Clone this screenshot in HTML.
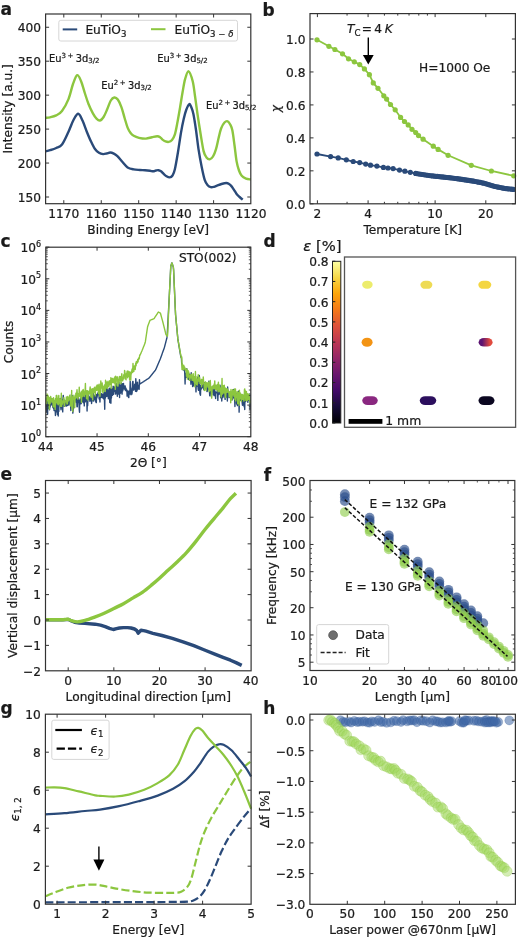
<!DOCTYPE html>
<html><head><meta charset="utf-8"><title>Figure</title>
<style>
html,body{margin:0;padding:0;background:#fff;}
body{width:520px;height:938px;overflow:hidden;}
svg{display:block;}
svg{font-family:"DejaVu Sans","Liberation Sans",sans-serif;font-size:12.2px;fill:#1a1a1a;}
svg text{stroke:#1a1a1a;stroke-width:0.22px;}
</style></head><body>
<svg width="520" height="938" viewBox="0 0 520 938">
<rect width="520" height="938" fill="#fff"/>
<text x="0.6" y="15.2" font-size="17" font-weight="bold">a</text>
<rect x="58.8" y="20.3" width="178.7" height="20.7" rx="2" fill="#fff" stroke="#d6d6d6" stroke-width="1"/>
<path d="M62.7,29.4H77.2" stroke="#2a4a79" stroke-width="2"/>
<path d="M151,29.2H165.5" stroke="#8cc63f" stroke-width="2"/>
<text x="85.4" y="34.3">EuTiO<tspan font-size="8.6" dy="2.2">3</tspan></text>
<text x="174.6" y="34.3">EuTiO<tspan font-size="8.6" dy="2.2">3 &#8722; <tspan font-style="italic">&#948;</tspan></tspan></text>
<path d="M45.6,151.3C46.33,151.12 48.23,150.75 50,150.2C51.77,149.65 54.2,148.95 56.2,148C58.2,147.05 59.95,147.22 62,144.5C64.05,141.78 66.58,135.78 68.5,131.7C70.42,127.62 71.88,122.98 73.5,120C75.12,117.02 76.7,113.72 78.2,113.8C79.7,113.88 81.07,117.52 82.5,120.5C83.93,123.48 85.38,128.2 86.8,131.7C88.22,135.2 89.63,138.62 91,141.5C92.37,144.38 93.67,147.12 95,149C96.33,150.88 97.65,151.95 99,152.8C100.35,153.65 101.82,153.98 103.1,154.1C104.38,154.22 105.52,153.77 106.7,153.5C107.88,153.23 109.02,152.48 110.2,152.5C111.38,152.52 112.6,152.98 113.8,153.6C115,154.22 115.95,154.8 117.4,156.2C118.85,157.6 120.8,160.13 122.5,162C124.2,163.87 125.73,166.17 127.6,167.4C129.47,168.63 131.67,168.97 133.7,169.4C135.73,169.83 137.92,169.85 139.8,170C141.68,170.15 143.3,170.17 145,170.3C146.7,170.43 148.63,170.63 150,170.8C151.37,170.97 152.2,171.35 153.2,171.3C154.2,171.25 155.13,170.68 156,170.5C156.87,170.32 157.57,170.07 158.4,170.2C159.23,170.33 160.15,170.72 161,171.3C161.85,171.88 162.58,172.88 163.5,173.7C164.42,174.52 165.47,175.58 166.5,176.2C167.53,176.82 168.7,177.52 169.7,177.4C170.7,177.28 171.65,176.8 172.5,175.5C173.35,174.2 173.88,173.52 174.8,169.6C175.72,165.68 176.97,158.17 178,152C179.03,145.83 180.05,138.1 181,132.6C181.95,127.1 182.83,122.77 183.7,119C184.57,115.23 185.28,112.47 186.2,110C187.12,107.53 188.37,104.7 189.2,104.2C190.03,103.7 190.5,105.35 191.2,107C191.9,108.65 192.6,110.27 193.4,114.1C194.2,117.93 195.15,124.17 196,130C196.85,135.83 197.57,143.02 198.5,149.1C199.43,155.18 200.57,161.37 201.6,166.5C202.63,171.63 203.68,176.78 204.7,179.9C205.72,183.02 206.68,184 207.7,185.2C208.72,186.4 209.75,186.83 210.8,187.1C211.85,187.37 212.97,187.03 214,186.8C215.03,186.57 215.75,186.17 217,185.7C218.25,185.23 219.95,184.45 221.5,184C223.05,183.55 225.05,183 226.3,183C227.55,183 228.15,183.48 229,184C229.85,184.52 230.57,185.13 231.4,186.1C232.23,187.07 233.13,188.5 234,189.8C234.87,191.1 235.67,192.7 236.6,193.9C237.53,195.1 238.58,196.05 239.6,197C240.62,197.95 242.18,199.17 242.7,199.6" fill="none" stroke="#2a4a79" stroke-width="2.4" stroke-linejoin="round"/>
<path d="M45.6,117.8C46.33,117.72 48.23,117.7 50,117.3C51.77,116.9 54.2,116.45 56.2,115.4C58.2,114.35 59.95,113.72 62,111C64.05,108.28 66.67,103.6 68.5,99.1C70.33,94.6 71.55,88 73,84C74.45,80 75.87,75.6 77.2,75.1C78.53,74.6 79.73,78.02 81,81C82.27,83.98 83.55,89.17 84.8,93C86.05,96.83 87.15,100.6 88.5,104C89.85,107.4 91.57,110.97 92.9,113.4C94.23,115.83 95.32,117.42 96.5,118.6C97.68,119.78 98.82,120.77 100,120.5C101.18,120.23 102.4,118.87 103.6,117C104.8,115.13 106,112.05 107.2,109.3C108.4,106.55 109.62,102.47 110.8,100.5C111.98,98.53 113.13,97.67 114.3,97.5C115.47,97.33 116.6,97.87 117.8,99.5C119,101.13 120.37,104.22 121.5,107.3C122.63,110.38 123.58,114.62 124.6,118C125.62,121.38 126.6,125.1 127.6,127.6C128.6,130.1 129.58,131.63 130.6,133C131.62,134.37 132.3,135 133.7,135.8C135.1,136.6 136.97,137.33 139,137.8C141.03,138.27 143.73,138.7 145.9,138.6C148.07,138.5 150.1,137.58 152,137.2C153.9,136.82 155.92,136.27 157.3,136.3C158.68,136.33 159.43,136.85 160.3,137.4C161.17,137.95 161.63,138.93 162.5,139.6C163.37,140.27 164.47,141.02 165.5,141.4C166.53,141.78 167.62,142.13 168.7,141.9C169.78,141.67 170.98,141.2 172,140C173.02,138.8 173.88,137.7 174.8,134.7C175.72,131.7 176.63,126.47 177.5,122C178.37,117.53 179.15,112.9 180,107.9C180.85,102.9 181.75,96.8 182.6,92C183.45,87.2 184.1,82.55 185.1,79.1C186.1,75.65 187.33,70.95 188.6,71.3C189.87,71.65 191.63,77.08 192.7,81.2C193.77,85.32 194.2,90.52 195,96C195.8,101.48 196.57,107.77 197.5,114.1C198.43,120.43 199.58,127.83 200.6,134C201.62,140.17 202.62,147.18 203.6,151.1C204.58,155.02 205.47,156.13 206.5,157.5C207.53,158.87 208.72,159.47 209.8,159.3C210.88,159.13 211.97,158.2 213,156.5C214.03,154.8 215.07,152.18 216,149.1C216.93,146.02 217.75,141.43 218.6,138C219.45,134.57 220.12,131.08 221.1,128.5C222.08,125.92 223.4,123.7 224.5,122.5C225.6,121.3 226.75,120.97 227.7,121.3C228.65,121.63 229.42,122.97 230.2,124.5C230.98,126.03 231.67,126.92 232.4,130.5C233.13,134.08 233.9,140.85 234.6,146C235.3,151.15 235.87,157.32 236.6,161.4C237.33,165.48 238.15,168.1 239,170.5C239.85,172.9 240.53,174.45 241.7,175.8C242.87,177.15 244.48,177.98 246,178.6C247.52,179.22 250,179.35 250.8,179.5" fill="none" stroke="#8cc63f" stroke-width="2.4" stroke-linejoin="round"/>
<text x="49" y="61.5" font-size="9.9">Eu<tspan font-size="7" dy="-3.9">3</tspan><tspan font-size="7" dx="1.6">+</tspan><tspan dy="3.9" dx="2.2">3d</tspan><tspan font-size="7" dy="1.6">3/2</tspan></text>
<text x="101.3" y="88.8" font-size="9.9">Eu<tspan font-size="7" dy="-3.9">2</tspan><tspan font-size="7" dx="1.6">+</tspan><tspan dy="3.9" dx="2.2">3d</tspan><tspan font-size="7" dy="1.6">3/2</tspan></text>
<text x="157.2" y="61.6" font-size="9.9">Eu<tspan font-size="7" dy="-3.9">3</tspan><tspan font-size="7" dx="1.6">+</tspan><tspan dy="3.9" dx="2.2">3d</tspan><tspan font-size="7" dy="1.6">5/2</tspan></text>
<text x="205.9" y="108.8" font-size="9.9">Eu<tspan font-size="7" dy="-3.9">2</tspan><tspan font-size="7" dx="1.6">+</tspan><tspan dy="3.9" dx="2.2">3d</tspan><tspan font-size="7" dy="1.6">5/2</tspan></text>
<rect x="45.6" y="14" width="205.2" height="189.7" fill="none" stroke="#333" stroke-width="1.2"/>
<path d="M63.8,203.7v-3.5M63.8,14v3.5M101.25,203.7v-3.5M101.25,14v3.5M138.7,203.7v-3.5M138.7,14v3.5M176.15,203.7v-3.5M176.15,14v3.5M213.6,203.7v-3.5M213.6,14v3.5" stroke="#333" stroke-width="1.0" fill="none"/>
<path d="M45.6,197h3.5M250.8,197h-3.5M45.6,163.05h3.5M250.8,163.05h-3.5M45.6,129.1h3.5M250.8,129.1h-3.5M45.6,95.15h3.5M250.8,95.15h-3.5M45.6,61.2h3.5M250.8,61.2h-3.5M45.6,27.25h3.5M250.8,27.25h-3.5" stroke="#333" stroke-width="1.0" fill="none"/>
<text x="63.8" y="217.8" text-anchor="middle">1170</text>
<text x="101.25" y="217.8" text-anchor="middle">1160</text>
<text x="138.7" y="217.8" text-anchor="middle">1150</text>
<text x="176.15" y="217.8" text-anchor="middle">1140</text>
<text x="213.6" y="217.8" text-anchor="middle">1130</text>
<text x="251.05" y="217.8" text-anchor="middle">1120</text>
<text x="41" y="201.85" text-anchor="end">150</text>
<text x="41" y="167.9" text-anchor="end">200</text>
<text x="41" y="133.95" text-anchor="end">250</text>
<text x="41" y="100" text-anchor="end">300</text>
<text x="41" y="66.05" text-anchor="end">350</text>
<text x="41" y="32.1" text-anchor="end">400</text>
<text x="148.2" y="233.9" text-anchor="middle">Binding Energy [eV]</text>
<text x="11.8" y="108.85" text-anchor="middle" transform="rotate(-90 11.8 108.85)">Intensity [a.u.]</text>
<text x="262.6" y="15.8" font-size="17" font-weight="bold">b</text>
<path d="M317,39.8 L328.9,46.3 L334.9,49.5 L342.5,53.8 L348.5,58.8 L354.3,61.8 L359.7,64.6 L364.4,68.9 L369.4,74.7 L373.3,82.9 L378,88.3 L383.8,95.8 L386.6,99.1 L390.5,104.5 L395.2,109.8 L400.6,117.4 L404.5,121.5 L408.2,124.9 L412,129.3 L415.7,132.5 L418.5,135.6 L423.1,139.2 L433.3,146.2 L438.1,149.4 L448.1,155.3 L471.3,165.3 L491.4,171 L513.7,175.8" fill="none" stroke="#8cc63f" stroke-width="1.8"/>
<g fill="#8cc63f"><circle cx="317" cy="39.8" r="2.6"/><circle cx="328.9" cy="46.3" r="2.6"/><circle cx="334.9" cy="49.5" r="2.6"/><circle cx="342.5" cy="53.8" r="2.6"/><circle cx="348.5" cy="58.8" r="2.6"/><circle cx="354.3" cy="61.8" r="2.6"/><circle cx="359.7" cy="64.6" r="2.6"/><circle cx="364.4" cy="68.9" r="2.6"/><circle cx="369.4" cy="74.7" r="2.6"/><circle cx="373.3" cy="82.9" r="2.6"/><circle cx="378" cy="88.3" r="2.6"/><circle cx="383.8" cy="95.8" r="2.6"/><circle cx="386.6" cy="99.1" r="2.6"/><circle cx="390.5" cy="104.5" r="2.6"/><circle cx="395.2" cy="109.8" r="2.6"/><circle cx="400.6" cy="117.4" r="2.6"/><circle cx="404.5" cy="121.5" r="2.6"/><circle cx="408.2" cy="124.9" r="2.6"/><circle cx="412" cy="129.3" r="2.6"/><circle cx="415.7" cy="132.5" r="2.6"/><circle cx="418.5" cy="135.6" r="2.6"/><circle cx="423.1" cy="139.2" r="2.6"/><circle cx="433.3" cy="146.2" r="2.6"/><circle cx="438.1" cy="149.4" r="2.6"/><circle cx="448.1" cy="155.3" r="2.6"/><circle cx="471.3" cy="165.3" r="2.6"/><circle cx="491.4" cy="171" r="2.6"/><circle cx="513.7" cy="175.8" r="2.6"/></g>
<path d="M317,154 L330.6,156.6 L338.2,157.9 L346.3,159.8 L353.2,161.5 L359.7,162.6 L365.7,164.1 L370.5,165.2 L376.9,166.1 L383.4,167.4 L388,168 L393.1,168.6 L399.5,170.1 L404.9,171.2 L410.3,172.3 L415.7,173.4 L416,173.5 L417.65,173.75 L419.3,174 L420.95,174.25 L422.6,174.5 L424.25,174.75 L425.9,175 L427.55,175.25 L429.2,175.5 L430.85,175.75 L432.5,175.94 L434.15,176.11 L435.8,176.28 L437.45,176.45 L439.1,176.62 L440.75,176.8 L442.4,176.97 L444.05,177.14 L445.7,177.31 L447.35,177.48 L449,177.66 L450.65,177.83 L452.3,178 L453.95,178.24 L455.6,178.48 L457.25,178.72 L458.9,178.97 L460.55,179.21 L462.2,179.45 L463.85,179.69 L465.5,179.93 L467.15,180.17 L468.8,180.41 L470.45,180.65 L472.1,180.9 L473.75,181.15 L475.4,181.48 L477.05,181.81 L478.7,182.14 L480.35,182.47 L482,182.8 L483.65,183.13 L485.3,183.59 L486.95,184.09 L488.6,184.59 L490.25,185.09 L491.9,185.58 L493.55,186.08 L495.2,186.52 L496.85,186.85 L498.5,187.17 L500.15,187.5 L501.8,187.83 L503.45,188.15 L505.1,188.48 L506.75,188.67 L508.4,188.85 L510.05,189.02 L511.7,189.2 L513.35,189.38" fill="none" stroke="#2a4a79" stroke-width="1.8"/>
<g fill="#2a4a79"><circle cx="317" cy="154" r="2.6"/><circle cx="330.6" cy="156.6" r="2.6"/><circle cx="338.2" cy="157.9" r="2.6"/><circle cx="346.3" cy="159.8" r="2.6"/><circle cx="353.2" cy="161.5" r="2.6"/><circle cx="359.7" cy="162.6" r="2.6"/><circle cx="365.7" cy="164.1" r="2.6"/><circle cx="370.5" cy="165.2" r="2.6"/><circle cx="376.9" cy="166.1" r="2.6"/><circle cx="383.4" cy="167.4" r="2.6"/><circle cx="388" cy="168" r="2.6"/><circle cx="393.1" cy="168.6" r="2.6"/><circle cx="399.5" cy="170.1" r="2.6"/><circle cx="404.9" cy="171.2" r="2.6"/><circle cx="410.3" cy="172.3" r="2.6"/><circle cx="415.7" cy="173.4" r="2.6"/><circle cx="416" cy="173.5" r="2.6"/><circle cx="417.65" cy="173.75" r="2.6"/><circle cx="419.3" cy="174" r="2.6"/><circle cx="420.95" cy="174.25" r="2.6"/><circle cx="422.6" cy="174.5" r="2.6"/><circle cx="424.25" cy="174.75" r="2.6"/><circle cx="425.9" cy="175" r="2.6"/><circle cx="427.55" cy="175.25" r="2.6"/><circle cx="429.2" cy="175.5" r="2.6"/><circle cx="430.85" cy="175.75" r="2.6"/><circle cx="432.5" cy="175.94" r="2.6"/><circle cx="434.15" cy="176.11" r="2.6"/><circle cx="435.8" cy="176.28" r="2.6"/><circle cx="437.45" cy="176.45" r="2.6"/><circle cx="439.1" cy="176.62" r="2.6"/><circle cx="440.75" cy="176.8" r="2.6"/><circle cx="442.4" cy="176.97" r="2.6"/><circle cx="444.05" cy="177.14" r="2.6"/><circle cx="445.7" cy="177.31" r="2.6"/><circle cx="447.35" cy="177.48" r="2.6"/><circle cx="449" cy="177.66" r="2.6"/><circle cx="450.65" cy="177.83" r="2.6"/><circle cx="452.3" cy="178" r="2.6"/><circle cx="453.95" cy="178.24" r="2.6"/><circle cx="455.6" cy="178.48" r="2.6"/><circle cx="457.25" cy="178.72" r="2.6"/><circle cx="458.9" cy="178.97" r="2.6"/><circle cx="460.55" cy="179.21" r="2.6"/><circle cx="462.2" cy="179.45" r="2.6"/><circle cx="463.85" cy="179.69" r="2.6"/><circle cx="465.5" cy="179.93" r="2.6"/><circle cx="467.15" cy="180.17" r="2.6"/><circle cx="468.8" cy="180.41" r="2.6"/><circle cx="470.45" cy="180.65" r="2.6"/><circle cx="472.1" cy="180.9" r="2.6"/><circle cx="473.75" cy="181.15" r="2.6"/><circle cx="475.4" cy="181.48" r="2.6"/><circle cx="477.05" cy="181.81" r="2.6"/><circle cx="478.7" cy="182.14" r="2.6"/><circle cx="480.35" cy="182.47" r="2.6"/><circle cx="482" cy="182.8" r="2.6"/><circle cx="483.65" cy="183.13" r="2.6"/><circle cx="485.3" cy="183.59" r="2.6"/><circle cx="486.95" cy="184.09" r="2.6"/><circle cx="488.6" cy="184.59" r="2.6"/><circle cx="490.25" cy="185.09" r="2.6"/><circle cx="491.9" cy="185.58" r="2.6"/><circle cx="493.55" cy="186.08" r="2.6"/><circle cx="495.2" cy="186.52" r="2.6"/><circle cx="496.85" cy="186.85" r="2.6"/><circle cx="498.5" cy="187.17" r="2.6"/><circle cx="500.15" cy="187.5" r="2.6"/><circle cx="501.8" cy="187.83" r="2.6"/><circle cx="503.45" cy="188.15" r="2.6"/><circle cx="505.1" cy="188.48" r="2.6"/><circle cx="506.75" cy="188.67" r="2.6"/><circle cx="508.4" cy="188.85" r="2.6"/><circle cx="510.05" cy="189.02" r="2.6"/><circle cx="511.7" cy="189.2" r="2.6"/><circle cx="513.35" cy="189.38" r="2.6"/></g>
<path d="M368.3,37.5V56" stroke="#000" stroke-width="1.4"/>
<path d="M362.9,55L373.7,55L368.3,64.6Z" fill="#000"/>
<text x="347" y="33.4"><tspan font-style="italic">T</tspan><tspan font-size="8.6" dy="2.4">C</tspan><tspan dy="-2.4" dx="1.2">=</tspan><tspan dx="2.4">4</tspan><tspan font-style="italic" dx="2.6">K</tspan></text>
<text x="419" y="72.2">H=1000 Oe</text>
<rect x="310" y="13.6" width="205.4" height="190.2" fill="none" stroke="#333" stroke-width="1.2"/>
<path d="M317.4,203.8v-3.5M317.4,13.6v3.5M368.09,203.8v-3.5M368.09,13.6v3.5M435.11,203.8v-3.5M435.11,13.6v3.5M485.8,203.8v-3.5M485.8,13.6v3.5" stroke="#333" stroke-width="1.0" fill="none"/>
<path d="M347.05,203.8v-2M347.05,13.6v2M384.41,203.8v-2M384.41,13.6v2M397.75,203.8v-2M397.75,13.6v2M409.02,203.8v-2M409.02,13.6v2M418.79,203.8v-2M418.79,13.6v2M427.4,203.8v-2M427.4,13.6v2" stroke="#333" stroke-width="1.0" fill="none"/>
<path d="M310,203.8h3.5M515.4,203.8h-3.5M310,170.84h3.5M515.4,170.84h-3.5M310,137.88h3.5M515.4,137.88h-3.5M310,104.92h3.5M515.4,104.92h-3.5M310,71.96h3.5M515.4,71.96h-3.5M310,39h3.5M515.4,39h-3.5" stroke="#333" stroke-width="1.0" fill="none"/>
<text x="317.4" y="217.9" text-anchor="middle">2</text>
<text x="368.09" y="217.9" text-anchor="middle">4</text>
<text x="435.11" y="217.9" text-anchor="middle">10</text>
<text x="485.8" y="217.9" text-anchor="middle">20</text>
<text x="305.4" y="208.65" text-anchor="end">0.0</text>
<text x="305.4" y="175.69" text-anchor="end">0.2</text>
<text x="305.4" y="142.73" text-anchor="end">0.4</text>
<text x="305.4" y="109.77" text-anchor="end">0.6</text>
<text x="305.4" y="76.81" text-anchor="end">0.8</text>
<text x="305.4" y="43.85" text-anchor="end">1.0</text>
<text x="412.7" y="233.9" text-anchor="middle">Temperature [K]</text>
<text x="279.9" y="108.7" text-anchor="middle" font-style="italic" transform="rotate(-90 279.9 108.7)">&#967;</text>
<text x="0.5" y="246.5" font-size="17" font-weight="bold">c</text>
<path d="M46.2,403.34 L46.48,407.27 L46.76,412.01 L47.04,402.15 L47.32,404.16 L47.6,414.22 L47.88,398.27 L48.16,403.8 L48.44,405.89 L48.72,400.05 L49,408.38 L49.28,405.37 L49.56,409.81 L49.84,404.46 L50.12,407.05 L50.4,399.45 L50.68,404.33 L50.96,399.68 L51.24,404.7 L51.52,404.26 L51.8,398.82 L52.08,405.08 L52.36,400.85 L52.64,405.32 L52.92,407.49 L53.2,400.35 L53.48,408.33 L53.76,402.99 L54.04,410.48 L54.32,401.68 L54.6,404.86 L54.88,409.55 L55.16,409.48 L55.44,415.53 L55.72,401.71 L56,404.4 L56.28,404.08 L56.56,411.68 L56.84,399.97 L57.12,409.52 L57.4,414.53 L57.68,408.77 L57.96,399.52 L58.24,416.07 L58.52,400.1 L58.8,411.36 L59.08,399.47 L59.36,404.49 L59.64,399.08 L59.92,401.78 L60.2,398.55 L60.48,405.73 L60.76,407.51 L61.04,409.73 L61.32,402.77 L61.6,403.01 L61.88,407.75 L62.16,405.04 L62.44,400.06 L62.72,411.91 L63,399.28 L63.28,395.36 L63.56,400.65 L63.84,401.47 L64.12,399.97 L64.4,406.41 L64.68,403.14 L64.96,402.22 L65.24,402.09 L65.52,405.19 L65.8,404.31 L66.08,406.25 L66.36,401.53 L66.64,405.59 L66.92,404.08 L67.2,401.15 L67.48,405.54 L67.76,400.26 L68.04,400.52 L68.32,402.26 L68.6,403.75 L68.88,405.12 L69.16,403.67 L69.44,399.62 L69.72,403.26 L70,399.9 L70.28,399.4 L70.56,404.09 L70.84,410.5 L71.12,402.55 L71.4,394.64 L71.68,405.55 L71.96,401.99 L72.24,395.65 L72.52,401.32 L72.8,413.16 L73.08,410.88 L73.36,407.96 L73.64,408.31 L73.92,398.5 L74.2,407.39 L74.48,402.21 L74.76,399.54 L75.04,398.11 L75.32,399.23 L75.6,399.54 L75.88,395.63 L76.16,402.31 L76.44,395.3 L76.72,400.01 L77,406.75 L77.28,406.76 L77.56,401.93 L77.84,400.35 L78.12,397.61 L78.4,400.47 L78.68,402.18 L78.96,401 L79.24,409.32 L79.52,412.25 L79.8,399.66 L80.08,403.5 L80.36,398 L80.64,399.04 L80.92,403.74 L81.2,403.65 L81.48,402.43 L81.76,401.54 L82.04,401.14 L82.32,397.16 L82.6,397.39 L82.88,401.69 L83.16,395.68 L83.44,402.74 L83.72,402.05 L84,398.96 L84.28,405.9 L84.56,394.56 L84.84,400.66 L85.12,397.34 L85.4,401.76 L85.68,395.12 L85.96,396.92 L86.24,394.77 L86.52,399.21 L86.8,399.24 L87.08,410.93 L87.36,399.66 L87.64,405.62 L87.92,400.04 L88.2,396.01 L88.48,393.18 L88.76,399.11 L89.04,397.87 L89.32,398.32 L89.6,397.01 L89.88,401.3 L90.16,399.55 L90.44,398.45 L90.72,400.4 L91,398.25 L91.28,394.69 L91.56,403.43 L91.84,400.79 L92.12,393.03 L92.4,400.7 L92.68,397.88 L92.96,392.51 L93.24,393 L93.52,401 L93.8,400.91 L94.08,395.22 L94.36,398.24 L94.64,399.57 L94.92,396.04 L95.2,399.21 L95.48,395.35 L95.76,401.87 L96.04,394.38 L96.32,402.61 L96.6,394.98 L96.88,397.85 L97.16,396.65 L97.44,394.41 L97.72,393.1 L98,393.89 L98.28,392.39 L98.56,394.58 L98.84,391.39 L99.12,399.03 L99.4,396.02 L99.68,398.09 L99.96,401.99 L100.24,393.75 L100.52,395.26 L100.8,397.48 L101.08,397.32 L101.36,393.59 L101.64,394.83 L101.92,397.51 L102.2,394.05 L102.48,397.88 L102.76,397.78 L103.04,394.77 L103.32,395.67 L103.6,398.84 L103.88,392.74 L104.16,393.83 L104.44,399.62 L104.72,409.34 L105,389.94 L105.28,398.13 L105.56,391.67 L105.84,389.38 L106.12,393.96 L106.4,384.98 L106.68,396.57 L106.96,396.07 L107.24,391.49 L107.52,389.35 L107.8,391.78 L108.08,391.58 L108.36,398.7 L108.64,398.49 L108.92,392.05 L109.2,388.31 L109.48,389.9 L109.76,402.44 L110.04,392.69 L110.32,388.23 L110.6,392.07 L110.88,403.18 L111.16,392.34 L111.44,397.97 L111.72,388.59 L112,394.41 L112.28,392.86 L112.56,395.25 L112.84,392.73 L113.12,386.27 L113.4,386.72 L113.68,394.3 L113.96,389.81 L114.24,390.28 L114.52,386.9 L114.8,390.4 L115.08,391.25 L115.36,390.17 L115.64,394.09 L115.92,389.79 L116.2,384.51 L116.48,383.71 L116.76,393.08 L117.04,387.49 L117.32,396.25 L117.6,390.42 L117.88,386.52 L118.16,389.61 L118.44,393.98 L118.72,390.93 L119,382.06 L119.28,386.38 L119.56,397.53 L119.84,385.09 L120.12,393.32 L120.4,391.49 L120.68,393.02 L120.96,385.54 L121.24,383 L121.52,384.56 L121.8,385.67 L122.08,394.14 L122.36,383.65 L122.64,391.05 L122.92,390.08 L123.2,389.04 L123.48,383.33 L123.76,388.61 L124.04,386.72 L124.32,386.01 L124.6,386.52 L124.88,389.43 L125.16,385.91 L125.44,390.45 L125.72,388.09 L126,388.36 L126.28,390.52 L126.56,391.2 L126.84,389.95 L127.12,396.17 L127.4,394.52 L127.68,391.92 L127.96,390.93 L128.24,391.51 L128.52,397.37 L128.8,397.53 L129.08,391.22 L129.36,392.94 L129.64,394.12 L129.92,390.74 L130.2,381.18 L130.48,390.46 L130.76,388 L131.04,394.69 L131.32,392.62 L131.6,391.06 L131.88,394.1 L132.16,392.32 L132.44,383.65 L132.72,381.62 L133,381.43 L133.28,388.25 L133.56,390.05 L133.84,387.7 L134.12,389.35 L134.4,388.28 L134.68,384.3 L134.96,388.48 L135.24,388.92 L135.52,391.21 L135.8,378.82 L136.08,383.42 L136.36,386.58 L136.64,391.54 L136.92,388.16 L137.2,390.15 L137.48,382.28 L137.76,387.68 L138.04,388.75 L138.32,385.39 L138.6,386.74 L138.88,385.98 L139.16,389.33 L139.44,379.6 L139.72,383.8 L140,383.94 L140.28,383.75 L140.56,383.57 L140.84,383.39 L141.12,383.2 L141.4,383.02 L141.68,382.83 L141.96,382.65 L142.24,382.47 L142.52,382.28 L142.8,382.1 L143.08,381.92 L143.36,381.73 L143.64,381.55 L143.92,381.36 L144.2,381.18 L144.48,381 L144.76,380.81 L145.04,380.63 L145.32,380.45 L145.6,380.26 L145.88,380.08 L146.16,379.89 L146.44,379.71 L146.72,379.53 L147,379.34 L147.28,379.16 L147.56,378.98 L147.84,378.79 L148.12,378.61 L148.4,378.42 L148.68,378.24 L148.96,378.06 L149.24,377.85 L149.52,377.5 L149.8,377.15 L150.08,376.8 L150.36,376.45 L150.64,376.1 L150.92,375.75 L151.2,375.4 L151.48,375.05 L151.76,374.7 L152.04,374.35 L152.32,374 L152.6,373.65 L152.88,373.3 L153.16,372.95 L153.44,372.6 L153.72,372.25 L154,371.9 L154.28,371.55 L154.56,371.2 L154.84,370.85 L155.12,370.5 L155.4,370.15 L155.68,369.71 L155.96,369.06 L156.24,368.41 L156.52,367.75 L156.8,367.1 L157.08,366.45 L157.36,365.79 L157.64,365.14 L157.92,364.49 L158.2,363.83 L158.48,363.18 L158.76,362.53 L159.04,361.87 L159.32,361.22 L159.6,360.57 L159.88,359.91 L160.16,359.26 L160.44,358.59 L160.72,357.8 L161,357.02 L161.28,356.24 L161.56,355.45 L161.84,354.67 L162.12,353.88 L162.4,353.1 L162.68,352.32 L162.96,351.53 L163.24,350.75 L163.52,349.96 L163.8,349.18 L164.08,348.4 L164.36,347.61 L164.64,346.58 L164.92,345.5 L165.2,344.42 L165.48,343.34 L165.76,342.26 L166.04,341.18 L166.32,340.1 L166.6,339.03 L166.88,337.95 L167.16,335.98 L167.44,330.75 L167.72,325.53 L168,320.3 L168.28,315.07 L168.56,309.85 L168.84,304.62 L169.12,299.39 L169.4,293.91 L169.68,288.33 L169.96,282.75 L170.24,277.16 L170.52,271.58 L170.8,266 L171.08,265.19 L171.36,264.37 L171.64,263.56 L171.92,262.86 L172.2,263.7 L172.48,264.54 L172.76,265.38 L173.04,266.22 L173.32,267.06 L173.6,269.92 L173.88,276.4 L174.16,282.88 L174.44,289.36 L174.72,295.84 L175,302.33 L175.28,308.81 L175.56,314.54 L175.84,317.53 L176.12,320.51 L176.4,323.5 L176.68,326.49 L176.96,329.47 L177.24,332.46 L177.52,335.45 L177.8,338.43 L178.08,340.57 L178.36,342.24 L178.64,343.9 L178.92,345.57 L179.2,347.24 L179.48,348.9 L179.76,350.57 L180.04,352.23 L180.32,353.83 L180.6,355.43 L180.88,357.03 L181.16,357.59 L181.44,357.62 L181.72,363.94 L182,363.92 L182.28,365.47 L182.56,367.64 L182.84,368.4 L183.12,369.9 L183.4,368.98 L183.68,367.29 L183.96,368.85 L184.24,370.73 L184.52,367.9 L184.8,374.53 L185.08,384.07 L185.36,373.23 L185.64,376.76 L185.92,373.29 L186.2,377.35 L186.48,373.7 L186.76,368.82 L187.04,373.03 L187.32,374.98 L187.6,375.67 L187.88,373.78 L188.16,375.65 L188.44,375.08 L188.72,379.43 L189,378.11 L189.28,374.68 L189.56,374.14 L189.84,379.88 L190.12,377.58 L190.4,378.23 L190.68,379.81 L190.96,384.29 L191.24,372.71 L191.52,375.98 L191.8,378.49 L192.08,382.61 L192.36,378.61 L192.64,386.6 L192.92,380.06 L193.2,380.97 L193.48,381.93 L193.76,385.82 L194.04,380.65 L194.32,378.84 L194.6,382.87 L194.88,381.61 L195.16,383.64 L195.44,384.07 L195.72,383.57 L196,391.86 L196.28,381.87 L196.56,384.96 L196.84,386.01 L197.12,380.71 L197.4,383.01 L197.68,377.21 L197.96,385.64 L198.24,389.37 L198.52,390.32 L198.8,387.85 L199.08,384.05 L199.36,375.46 L199.64,386.74 L199.92,393.99 L200.2,385.44 L200.48,395.31 L200.76,386.54 L201.04,386.44 L201.32,389.07 L201.6,381.98 L201.88,381.98 L202.16,385.78 L202.44,387.7 L202.72,379.58 L203,385.74 L203.28,386.52 L203.56,386.87 L203.84,389.61 L204.12,384.43 L204.4,388.47 L204.68,382.52 L204.96,387.92 L205.24,388.9 L205.52,383.79 L205.8,386.21 L206.08,388.56 L206.36,383.93 L206.64,385.93 L206.92,391.48 L207.2,391.48 L207.48,388.98 L207.76,384.28 L208.04,386.89 L208.32,389.52 L208.6,387.43 L208.88,381.14 L209.16,387.75 L209.44,391.09 L209.72,395.79 L210,390.06 L210.28,386.13 L210.56,391.61 L210.84,387.88 L211.12,390.73 L211.4,396.57 L211.68,389.57 L211.96,390.54 L212.24,391.84 L212.52,391.28 L212.8,390.72 L213.08,389.24 L213.36,394.8 L213.64,393.96 L213.92,394.35 L214.2,395.68 L214.48,387.71 L214.76,394.98 L215.04,391.1 L215.32,392.16 L215.6,398.52 L215.88,392.97 L216.16,393.08 L216.44,392.62 L216.72,391.89 L217,392.08 L217.28,391.93 L217.56,390.14 L217.84,400.42 L218.12,390.81 L218.4,394.81 L218.68,389.97 L218.96,394.34 L219.24,391.74 L219.52,387.95 L219.8,389.89 L220.08,385.28 L220.36,390.26 L220.64,397.75 L220.92,389.1 L221.2,392.99 L221.48,390.23 L221.76,400.95 L222.04,395.22 L222.32,392.66 L222.6,392.7 L222.88,397.58 L223.16,392.23 L223.44,396.14 L223.72,395.02 L224,390.36 L224.28,391.1 L224.56,391.64 L224.84,395.97 L225.12,399.38 L225.4,390.6 L225.68,396 L225.96,393.03 L226.24,393.17 L226.52,390.52 L226.8,397.35 L227.08,393.02 L227.36,400.93 L227.64,386.91 L227.92,393.11 L228.2,393.28 L228.48,394.45 L228.76,393.16 L229.04,397.65 L229.32,394.14 L229.6,397.3 L229.88,392.29 L230.16,392.94 L230.44,397.08 L230.72,391.54 L231,398.61 L231.28,396.61 L231.56,397.15 L231.84,396.24 L232.12,396.51 L232.4,399.68 L232.68,396.39 L232.96,395.2 L233.24,389.43 L233.52,391.08 L233.8,397.83 L234.08,393.28 L234.36,398.84 L234.64,398.59 L234.92,406.43 L235.2,396.19 L235.48,396.86 L235.76,396.08 L236.04,400 L236.32,393.29 L236.6,404.05 L236.88,396.37 L237.16,395.63 L237.44,405.64 L237.72,397.04 L238,402.19 L238.28,393.33 L238.56,391.2 L238.84,393.88 L239.12,412.15 L239.4,400.11 L239.68,396.33 L239.96,397.04 L240.24,400.4 L240.52,394.53 L240.8,395.7 L241.08,394.44 L241.36,399.52 L241.64,397.05 L241.92,394.63 L242.2,402.87 L242.48,405.2 L242.76,396.12 L243.04,400.86 L243.32,405.02 L243.6,400.22 L243.88,398.05 L244.16,406.78 L244.44,400.97 L244.72,409.56 L245,393.82 L245.28,400.2 L245.56,401.46 L245.84,398.33 L246.12,400.68 L246.4,397.01 L246.68,398.42 L246.96,397.28 L247.24,395.48 L247.52,396.31 L247.8,402.33 L248.08,398.71 L248.36,400.28 L248.64,395.48 L248.92,400.29 L249.2,399.14 L249.48,397.94 L249.76,393.89 L250.04,409.51 L250.32,399.74" fill="none" stroke="#2a4a79" stroke-width="1.4" stroke-linejoin="round"/>
<path d="M46.2,397.49 L46.48,403.77 L46.76,403.14 L47.04,393.97 L47.32,398.9 L47.6,395.07 L47.88,397.42 L48.16,400.89 L48.44,396.29 L48.72,403.78 L49,397.8 L49.28,409.34 L49.56,397.81 L49.84,398.35 L50.12,403.78 L50.4,399.25 L50.68,396.53 L50.96,397.87 L51.24,399.7 L51.52,398.93 L51.8,402.1 L52.08,401.61 L52.36,401.44 L52.64,398.69 L52.92,400.68 L53.2,406.83 L53.48,397.59 L53.76,403.28 L54.04,401.89 L54.32,406.92 L54.6,406.36 L54.88,400.15 L55.16,409.52 L55.44,398.58 L55.72,400.7 L56,402.26 L56.28,395.52 L56.56,399.25 L56.84,395.46 L57.12,403.88 L57.4,400.42 L57.68,399.58 L57.96,398.59 L58.24,404.79 L58.52,396.86 L58.8,395.44 L59.08,403.66 L59.36,403.27 L59.64,399.26 L59.92,402.37 L60.2,406.54 L60.48,404.11 L60.76,404.34 L61.04,400.69 L61.32,393.21 L61.6,406.37 L61.88,400.13 L62.16,403.3 L62.44,404.19 L62.72,401.7 L63,402.26 L63.28,400.93 L63.56,400.95 L63.84,397.71 L64.12,402.96 L64.4,406.09 L64.68,405.8 L64.96,400.92 L65.24,401.25 L65.52,402 L65.8,400.14 L66.08,401.65 L66.36,396.9 L66.64,400.93 L66.92,403.99 L67.2,400.72 L67.48,403.75 L67.76,396.39 L68.04,398.31 L68.32,400.95 L68.6,400.26 L68.88,397.69 L69.16,398.96 L69.44,397.15 L69.72,395.3 L70,399.56 L70.28,401.01 L70.56,406.03 L70.84,404.16 L71.12,397.83 L71.4,400 L71.68,390.53 L71.96,408.76 L72.24,396.4 L72.52,399.14 L72.8,411.48 L73.08,398.82 L73.36,399.29 L73.64,397.68 L73.92,395.31 L74.2,398.51 L74.48,396.85 L74.76,407.46 L75.04,398.13 L75.32,398.81 L75.6,397.83 L75.88,393.2 L76.16,395.21 L76.44,397.81 L76.72,393.35 L77,389.75 L77.28,393.41 L77.56,395.17 L77.84,399.15 L78.12,396.68 L78.4,393.45 L78.68,396.33 L78.96,395.42 L79.24,387.11 L79.52,394.88 L79.8,396.37 L80.08,393.3 L80.36,393.48 L80.64,396.71 L80.92,398.45 L81.2,391.86 L81.48,402.47 L81.76,394.46 L82.04,391.07 L82.32,394.64 L82.6,396.44 L82.88,390.47 L83.16,389.5 L83.44,390.36 L83.72,393.96 L84,394.43 L84.28,396.49 L84.56,395.04 L84.84,391.85 L85.12,390.7 L85.4,383.56 L85.68,394.08 L85.96,391.55 L86.24,390.69 L86.52,398.82 L86.8,393.72 L87.08,394.05 L87.36,390.6 L87.64,395.34 L87.92,400.11 L88.2,392.72 L88.48,394.4 L88.76,391.15 L89.04,391.55 L89.32,393.77 L89.6,393.75 L89.88,389.38 L90.16,386.85 L90.44,389.81 L90.72,388.92 L91,396.94 L91.28,391.2 L91.56,389.37 L91.84,395.48 L92.12,397.73 L92.4,388.66 L92.68,399.87 L92.96,389.77 L93.24,392.73 L93.52,392.43 L93.8,388.36 L94.08,392.39 L94.36,387.49 L94.64,387.28 L94.92,387.9 L95.2,396.03 L95.48,390.19 L95.76,388.24 L96.04,390.4 L96.32,386.26 L96.6,390.41 L96.88,389.27 L97.16,384.93 L97.44,389.93 L97.72,389.74 L98,385.18 L98.28,390.87 L98.56,393.73 L98.84,390.39 L99.12,384.08 L99.4,387.8 L99.68,391.35 L99.96,396.34 L100.24,390.15 L100.52,392.69 L100.8,380.91 L101.08,385.45 L101.36,388.11 L101.64,386.75 L101.92,386.91 L102.2,382.96 L102.48,391.7 L102.76,386.45 L103.04,392.64 L103.32,389.76 L103.6,387.51 L103.88,389.14 L104.16,385.78 L104.44,384.96 L104.72,386.95 L105,390.85 L105.28,391.44 L105.56,380.19 L105.84,387.62 L106.12,384.7 L106.4,387.11 L106.68,381.85 L106.96,388.29 L107.24,388.7 L107.52,383.97 L107.8,386.7 L108.08,381.11 L108.36,385.28 L108.64,382.65 L108.92,386.47 L109.2,383.25 L109.48,384.7 L109.76,380.58 L110.04,381.35 L110.32,383.37 L110.6,384.37 L110.88,377.65 L111.16,388.47 L111.44,380.19 L111.72,378.72 L112,378.58 L112.28,381.55 L112.56,382.53 L112.84,379.24 L113.12,378.31 L113.4,381.84 L113.68,381.26 L113.96,382.89 L114.24,383.03 L114.52,380.97 L114.8,377.05 L115.08,381.78 L115.36,389.36 L115.64,376.27 L115.92,385.36 L116.2,381.59 L116.48,377.21 L116.76,377.07 L117.04,377.03 L117.32,379.26 L117.6,377.06 L117.88,386.3 L118.16,379.87 L118.44,380.1 L118.72,379.21 L119,383.25 L119.28,378.62 L119.56,376.41 L119.84,377.85 L120.12,380.27 L120.4,376.65 L120.68,377.15 L120.96,383.63 L121.24,379.85 L121.52,376.28 L121.8,373.78 L122.08,376.83 L122.36,378.54 L122.64,380.85 L122.92,379.56 L123.2,377.19 L123.48,378.59 L123.76,374.82 L124.04,378.76 L124.32,376.19 L124.6,370.34 L124.88,371.96 L125.16,376.08 L125.44,373.95 L125.72,378.99 L126,379.83 L126.28,375.93 L126.56,373.15 L126.84,374.48 L127.12,371.13 L127.4,372.83 L127.68,377.75 L127.96,371.05 L128.24,373.92 L128.52,376.28 L128.8,375.25 L129.08,371.67 L129.36,373.11 L129.64,380.01 L129.92,372.22 L130.2,373.36 L130.48,372.34 L130.76,379.93 L131.04,372.61 L131.32,373.9 L131.6,370.99 L131.88,370.14 L132.16,368.86 L132.44,372.49 L132.72,370 L133,363.53 L133.28,371.77 L133.56,367.49 L133.84,371.38 L134.12,368.15 L134.4,366.03 L134.68,368.87 L134.96,365.82 L135.24,369.57 L135.52,365.09 L135.8,362.91 L136.08,365.79 L136.36,361.48 L136.64,363.05 L136.92,362.1 L137.2,363.05 L137.48,361.55 L137.76,359.45 L138.04,361.87 L138.32,358.72 L138.6,358.74 L138.88,357.8 L139.16,358.97 L139.44,357.38 L139.72,354.95 L140,355.27 L140.28,354.63 L140.56,353.99 L140.84,353.35 L141.12,352.71 L141.4,352.07 L141.68,351.43 L141.96,350.79 L142.24,350.1 L142.52,349.4 L142.8,348.7 L143.08,348 L143.36,347.3 L143.64,346.6 L143.92,345.9 L144.2,345.2 L144.48,344.5 L144.76,343.8 L145.04,343.1 L145.32,341.9 L145.6,340.03 L145.88,338.17 L146.16,336.3 L146.44,334.43 L146.72,332.57 L147,330.7 L147.28,328.83 L147.56,326.97 L147.84,326.06 L148.12,325.31 L148.4,324.57 L148.68,323.82 L148.96,323.07 L149.24,322.33 L149.52,321.58 L149.8,320.83 L150.08,320.27 L150.36,320.16 L150.64,320.04 L150.92,319.93 L151.2,319.82 L151.48,319.71 L151.76,319.6 L152.04,319.48 L152.32,319.37 L152.6,319.26 L152.88,319.15 L153.16,319.04 L153.44,318.92 L153.72,318.81 L154,318.7 L154.28,318.27 L154.56,317.85 L154.84,317.42 L155.12,316.99 L155.4,316.57 L155.68,316.14 L155.96,315.72 L156.24,315.29 L156.52,314.86 L156.8,314.44 L157.08,314.01 L157.36,313.58 L157.64,313.16 L157.92,312.73 L158.2,312.3 L158.48,312.04 L158.76,312.2 L159.04,312.35 L159.32,312.51 L159.6,312.66 L159.88,312.81 L160.16,312.97 L160.44,313.25 L160.72,314.27 L161,315.3 L161.28,316.33 L161.56,317.35 L161.84,318.38 L162.12,319.41 L162.4,320.43 L162.68,321.46 L162.96,322.54 L163.24,323.66 L163.52,324.78 L163.8,325.9 L164.08,327.02 L164.36,328.14 L164.64,329.26 L164.92,330.38 L165.2,331.5 L165.48,332.62 L165.76,333.74 L166.04,334.74 L166.32,335.02 L166.6,335.3 L166.88,335.58 L167.16,335.86 L167.44,336.14 L167.72,333.42 L168,326.7 L168.28,319.98 L168.56,313.26 L168.84,306.54 L169.12,299.82 L169.4,293.91 L169.68,288.33 L169.96,282.75 L170.24,277.16 L170.52,271.58 L170.8,266 L171.08,265.19 L171.36,264.37 L171.64,263.56 L171.92,262.86 L172.2,263.7 L172.48,264.54 L172.76,265.38 L173.04,266.22 L173.32,267.06 L173.6,269.92 L173.88,276.4 L174.16,282.88 L174.44,289.36 L174.72,295.84 L175,302.33 L175.28,308.81 L175.56,314.54 L175.84,317.53 L176.12,320.51 L176.4,323.5 L176.68,326.49 L176.96,329.47 L177.24,332.46 L177.52,335.45 L177.8,338.43 L178.08,340.47 L178.36,341.98 L178.64,343.48 L178.92,344.99 L179.2,346.5 L179.48,348 L179.76,349.51 L180.04,351.02 L180.32,352.54 L180.6,354.06 L180.88,355.58 L181.16,357.72 L181.44,357.26 L181.72,356.8 L182,369.44 L182.28,363.6 L182.56,367.63 L182.84,366.17 L183.12,365.38 L183.4,369.68 L183.68,365.24 L183.96,366.57 L184.24,368.88 L184.52,367.01 L184.8,368.37 L185.08,368.61 L185.36,370.17 L185.64,369.04 L185.92,370.71 L186.2,370.33 L186.48,376.2 L186.76,368.91 L187.04,369.4 L187.32,379.15 L187.6,376.22 L187.88,377.12 L188.16,370.71 L188.44,377.16 L188.72,371.9 L189,375.97 L189.28,375.28 L189.56,380.31 L189.84,380.34 L190.12,377.28 L190.4,374.87 L190.68,376.13 L190.96,377.89 L191.24,377.57 L191.52,374.32 L191.8,377.49 L192.08,380.3 L192.36,378.29 L192.64,377.61 L192.92,380.32 L193.2,373.62 L193.48,377.86 L193.76,376.57 L194.04,381.96 L194.32,376.7 L194.6,379.09 L194.88,386.76 L195.16,377.79 L195.44,371.57 L195.72,382.56 L196,376.38 L196.28,383.07 L196.56,384.38 L196.84,379.55 L197.12,385.07 L197.4,382.84 L197.68,383.59 L197.96,377.89 L198.24,374.68 L198.52,376.24 L198.8,377.05 L199.08,381.28 L199.36,380.34 L199.64,377.81 L199.92,383.52 L200.2,383.24 L200.48,381.02 L200.76,382.99 L201.04,382.79 L201.32,379.47 L201.6,386.73 L201.88,379.33 L202.16,384.88 L202.44,384.1 L202.72,380.82 L203,383.34 L203.28,376.96 L203.56,381.86 L203.84,382.3 L204.12,384.79 L204.4,390.45 L204.68,385.09 L204.96,385.73 L205.24,383.78 L205.52,381.83 L205.8,383.25 L206.08,390.57 L206.36,385.27 L206.64,385.93 L206.92,382.6 L207.2,383.07 L207.48,385.51 L207.76,385.69 L208.04,387.18 L208.32,386.89 L208.6,382.1 L208.88,389.41 L209.16,391.56 L209.44,384 L209.72,384.23 L210,390.62 L210.28,380.52 L210.56,386.59 L210.84,387.26 L211.12,386.31 L211.4,391.97 L211.68,398.12 L211.96,393.29 L212.24,387.09 L212.52,388.33 L212.8,385.84 L213.08,387.1 L213.36,385.59 L213.64,388.81 L213.92,385.29 L214.2,384.04 L214.48,386.33 L214.76,380.84 L215.04,388.64 L215.32,389.23 L215.6,385.25 L215.88,385.74 L216.16,390.15 L216.44,385.13 L216.72,389.23 L217,389.47 L217.28,387.01 L217.56,384.4 L217.84,387.95 L218.12,391.68 L218.4,382.1 L218.68,390.66 L218.96,387.61 L219.24,391.06 L219.52,385.11 L219.8,390.79 L220.08,391.73 L220.36,389.27 L220.64,387.96 L220.92,395.38 L221.2,397.06 L221.48,392.05 L221.76,387.87 L222.04,378.52 L222.32,394.16 L222.6,389.3 L222.88,387.82 L223.16,385.69 L223.44,390.62 L223.72,393 L224,388.61 L224.28,385.3 L224.56,390.13 L224.84,387.38 L225.12,396.24 L225.4,388.3 L225.68,397.64 L225.96,392.23 L226.24,392.37 L226.52,388.75 L226.8,390.59 L227.08,392.35 L227.36,390.48 L227.64,389.05 L227.92,390.33 L228.2,391.97 L228.48,392.12 L228.76,391.16 L229.04,394.54 L229.32,396.88 L229.6,392.52 L229.88,394.89 L230.16,395.78 L230.44,391.53 L230.72,402.69 L231,389.51 L231.28,395.3 L231.56,392.31 L231.84,400.01 L232.12,394.28 L232.4,393.65 L232.68,389.71 L232.96,394.82 L233.24,393.31 L233.52,390.63 L233.8,393.06 L234.08,396.44 L234.36,393.38 L234.64,388.85 L234.92,399.55 L235.2,390.26 L235.48,389.03 L235.76,400.97 L236.04,397.46 L236.32,394.49 L236.6,397.64 L236.88,396.63 L237.16,391.35 L237.44,393.7 L237.72,403.66 L238,395.74 L238.28,399.01 L238.56,392.67 L238.84,395.5 L239.12,405.19 L239.4,390.22 L239.68,397.01 L239.96,392.66 L240.24,393.26 L240.52,398.83 L240.8,396.35 L241.08,395.15 L241.36,401.51 L241.64,394.35 L241.92,399.34 L242.2,394.33 L242.48,397.58 L242.76,399.37 L243.04,398 L243.32,397.32 L243.6,395.04 L243.88,401.11 L244.16,400.33 L244.44,389.79 L244.72,388.89 L245,392.2 L245.28,390.62 L245.56,397.33 L245.84,400.4 L246.12,400.58 L246.4,391.34 L246.68,395.73 L246.96,394.44 L247.24,400.54 L247.52,393.97 L247.8,393.68 L248.08,394.6 L248.36,399.45 L248.64,394.43 L248.92,394.14 L249.2,394.82 L249.48,399.74 L249.76,397.75 L250.04,402.97 L250.32,400.78" fill="none" stroke="#8cc63f" stroke-width="1.4" stroke-linejoin="round"/>
<text x="178.9" y="261.7">STO(002)</text>
<rect x="45.8" y="247.2" width="205" height="189.5" fill="none" stroke="#333" stroke-width="1.2"/>
<path d="M97.05,436.7v-3.5M97.05,247.2v3.5M148.3,436.7v-3.5M148.3,247.2v3.5M199.55,436.7v-3.5M199.55,247.2v3.5" stroke="#333" stroke-width="1.0" fill="none"/>
<path d="M45.8,436.68h3.5M250.8,436.68h-3.5M45.8,405.1h3.5M250.8,405.1h-3.5M45.8,373.52h3.5M250.8,373.52h-3.5M45.8,341.94h3.5M250.8,341.94h-3.5M45.8,310.36h3.5M250.8,310.36h-3.5M45.8,278.78h3.5M250.8,278.78h-3.5M45.8,247.2h3.5M250.8,247.2h-3.5" stroke="#333" stroke-width="1.0" fill="none"/>
<path d="M45.8,427.17h2M250.8,427.17h-2M45.8,421.61h2M250.8,421.61h-2M45.8,417.67h2M250.8,417.67h-2M45.8,414.61h2M250.8,414.61h-2M45.8,412.11h2M250.8,412.11h-2M45.8,409.99h2M250.8,409.99h-2M45.8,408.16h2M250.8,408.16h-2M45.8,406.55h2M250.8,406.55h-2M45.8,395.59h2M250.8,395.59h-2M45.8,390.03h2M250.8,390.03h-2M45.8,386.09h2M250.8,386.09h-2M45.8,383.03h2M250.8,383.03h-2M45.8,380.53h2M250.8,380.53h-2M45.8,378.41h2M250.8,378.41h-2M45.8,376.58h2M250.8,376.58h-2M45.8,374.97h2M250.8,374.97h-2M45.8,364.01h2M250.8,364.01h-2M45.8,358.45h2M250.8,358.45h-2M45.8,354.51h2M250.8,354.51h-2M45.8,351.45h2M250.8,351.45h-2M45.8,348.95h2M250.8,348.95h-2M45.8,346.83h2M250.8,346.83h-2M45.8,345h2M250.8,345h-2M45.8,343.39h2M250.8,343.39h-2M45.8,332.43h2M250.8,332.43h-2M45.8,326.87h2M250.8,326.87h-2M45.8,322.93h2M250.8,322.93h-2M45.8,319.87h2M250.8,319.87h-2M45.8,317.37h2M250.8,317.37h-2M45.8,315.25h2M250.8,315.25h-2M45.8,313.42h2M250.8,313.42h-2M45.8,311.81h2M250.8,311.81h-2M45.8,300.85h2M250.8,300.85h-2M45.8,295.29h2M250.8,295.29h-2M45.8,291.35h2M250.8,291.35h-2M45.8,288.29h2M250.8,288.29h-2M45.8,285.79h2M250.8,285.79h-2M45.8,283.67h2M250.8,283.67h-2M45.8,281.84h2M250.8,281.84h-2M45.8,280.23h2M250.8,280.23h-2M45.8,269.27h2M250.8,269.27h-2M45.8,263.71h2M250.8,263.71h-2M45.8,259.77h2M250.8,259.77h-2M45.8,256.71h2M250.8,256.71h-2M45.8,254.21h2M250.8,254.21h-2M45.8,252.09h2M250.8,252.09h-2M45.8,250.26h2M250.8,250.26h-2M45.8,248.65h2M250.8,248.65h-2" stroke="#333" stroke-width="0.8" fill="none"/>
<text x="45.8" y="450.8" text-anchor="middle">44</text>
<text x="97.05" y="450.8" text-anchor="middle">45</text>
<text x="148.3" y="450.8" text-anchor="middle">46</text>
<text x="199.55" y="450.8" text-anchor="middle">47</text>
<text x="250.8" y="450.8" text-anchor="middle">48</text>
<text x="41" y="441.68" text-anchor="end">10<tspan font-size="8" dy="-5.6">0</tspan></text>
<text x="41" y="410.1" text-anchor="end">10<tspan font-size="8" dy="-5.6">1</tspan></text>
<text x="41" y="378.52" text-anchor="end">10<tspan font-size="8" dy="-5.6">2</tspan></text>
<text x="41" y="346.94" text-anchor="end">10<tspan font-size="8" dy="-5.6">3</tspan></text>
<text x="41" y="315.36" text-anchor="end">10<tspan font-size="8" dy="-5.6">4</tspan></text>
<text x="41" y="283.78" text-anchor="end">10<tspan font-size="8" dy="-5.6">5</tspan></text>
<text x="41" y="252.2" text-anchor="end">10<tspan font-size="8" dy="-5.6">6</tspan></text>
<text x="148.3" y="466.6" text-anchor="middle">2&#920; [&#176;]</text>
<text x="13.2" y="341.95" text-anchor="middle" transform="rotate(-90 13.2 341.95)">Counts</text>
<text x="263.4" y="247.3" font-size="17" font-weight="bold">d</text>
<defs><linearGradient id="inf" x1="0" y1="1" x2="0" y2="0"><stop offset="0" stop-color="#000004"/><stop offset="0.1" stop-color="#160b39"/><stop offset="0.2" stop-color="#420a68"/><stop offset="0.3" stop-color="#6a176e"/><stop offset="0.4" stop-color="#932667"/><stop offset="0.5" stop-color="#bc3754"/><stop offset="0.6" stop-color="#dd513a"/><stop offset="0.7" stop-color="#f37819"/><stop offset="0.8" stop-color="#fca50a"/><stop offset="0.9" stop-color="#f6d746"/><stop offset="1" stop-color="#fcffa4"/></linearGradient></defs>
<rect x="332.5" y="261.3" width="8.3" height="161.7" fill="url(#inf)" stroke="#222" stroke-width="1"/>
<path d="M332.5,423h2.8M332.5,402.78h2.8M332.5,382.56h2.8M332.5,362.34h2.8M332.5,342.12h2.8M332.5,321.9h2.8M332.5,301.68h2.8M332.5,281.46h2.8M332.5,261.24h2.8" stroke="#222" stroke-width="1"/>
<text x="328.6" y="427.85" text-anchor="end">0.0</text>
<text x="328.6" y="407.63" text-anchor="end">0.1</text>
<text x="328.6" y="387.41" text-anchor="end">0.2</text>
<text x="328.6" y="367.19" text-anchor="end">0.3</text>
<text x="328.6" y="346.97" text-anchor="end">0.4</text>
<text x="328.6" y="326.75" text-anchor="end">0.5</text>
<text x="328.6" y="306.53" text-anchor="end">0.6</text>
<text x="328.6" y="286.31" text-anchor="end">0.7</text>
<text x="328.6" y="266.09" text-anchor="end">0.8</text>
<text x="303.3" y="250.7" font-size="14.8"><tspan font-style="italic">&#949;</tspan> [%]</text>
<rect x="344.5" y="257" width="171.1" height="170.3" fill="none" stroke="#555" stroke-width="1.3"/>
<rect x="362.15" y="280.7" width="10.5" height="8" rx="4.96" ry="4" fill="#ecec6c"/>
<rect x="420.4" y="280.8" width="12" height="8" rx="4.96" ry="4" fill="#eedb55"/>
<rect x="478.3" y="280.8" width="13" height="8" rx="4.96" ry="4" fill="#f4d642"/>
<rect x="361.6" y="337.7" width="11" height="9" rx="5.5" ry="4.5" fill="#f39414"/>
<defs><linearGradient id="mix" x1="0" y1="0" x2="1" y2="0"><stop offset="0.25" stop-color="#5c1472"/><stop offset="0.8" stop-color="#e04a3e"/></linearGradient></defs>
<rect x="478.6" y="337.95" width="14" height="8.5" rx="5.27" ry="4.25" fill="url(#mix)"/>
<rect x="362.25" y="396.25" width="15.5" height="8.7" rx="5.39" ry="4.35" fill="#8a2880"/>
<rect x="419.75" y="396.25" width="16.5" height="8.7" rx="5.39" ry="4.35" fill="#2c0f5e"/>
<rect x="478.5" y="396.25" width="16" height="8.7" rx="5.39" ry="4.35" fill="#0b0720"/>
<rect x="348.6" y="419" width="33.8" height="4.8" fill="#000"/>
<text x="385.3" y="424.8" font-size="12.4">1 mm</text>
<text x="0.6" y="480.4" font-size="17" font-weight="bold">e</text>
<path d="M45.5,619.8 L55,619.8 L62,619.8 L66,619.6 L68.5,619.5 L71.5,621 L74.6,622.3 L79.5,623 L84.8,623.4 L95,624.2 L100.5,625.2 L105.2,626.6 L109.5,628.3 L113.3,629.5 L116.5,628.6 L119.4,628 L123.5,627.6 L127.6,627.6 L131,628 L134.5,629 L136.7,630.5 L138.2,633.2 L139.5,631.8 L141,630.3 L143.5,630.6 L145.9,631.2 L152.9,633.3 L162,635.5 L172.3,638.3 L183,641.8 L193.8,645.7 L204.5,650 L215.4,654.4 L223,657.4 L230.5,660.2 L236,662.6 L241.7,665.4" fill="none" stroke="#2a4a79" stroke-width="3.4" stroke-linejoin="round"/>
<path d="M45.5,619.7C47.08,619.7 52.25,619.7 55,619.7C57.75,619.7 60.17,619.75 62,619.7C63.83,619.65 64.92,619.47 66,619.4C67.08,619.33 67.58,619.08 68.5,619.3C69.42,619.52 70.03,620.27 71.5,620.7C72.97,621.13 75.05,621.95 77.3,621.9C79.55,621.85 82.12,621.2 85,620.4C87.88,619.6 91.4,618.28 94.6,617.1C97.8,615.92 101,614.73 104.2,613.3C107.4,611.87 110.58,610.1 113.8,608.5C117.02,606.9 120.28,605.47 123.5,603.7C126.72,601.93 129.9,599.83 133.1,597.9C136.3,595.97 139.5,594.35 142.7,592.1C145.9,589.85 149.42,586.8 152.3,584.4C155.18,582 157.33,580.1 160,577.7C162.67,575.3 165.4,572.67 168.3,570C171.2,567.33 174.37,564.6 177.4,561.7C180.43,558.8 183.45,555.95 186.5,552.6C189.55,549.25 192.65,545.4 195.7,541.6C198.75,537.8 201.77,533.6 204.8,529.8C207.83,526 210.85,522.47 213.9,518.8C216.95,515.13 220.35,511.15 223.1,507.8C225.85,504.45 228.27,501.13 230.4,498.7C232.53,496.27 234.98,494.12 235.9,493.2" fill="none" stroke="#8cc63f" stroke-width="3.4" stroke-linejoin="round"/>
<rect x="45.5" y="480.5" width="205.6" height="190.3" fill="none" stroke="#333" stroke-width="1.2"/>
<path d="M68.2,670.8v-3.5M68.2,480.5v3.5M113.83,670.8v-3.5M113.83,480.5v3.5M159.46,670.8v-3.5M159.46,480.5v3.5M205.09,670.8v-3.5M205.09,480.5v3.5" stroke="#333" stroke-width="1.0" fill="none"/>
<path d="M45.5,645.39h3.5M251.1,645.39h-3.5M45.5,620h3.5M251.1,620h-3.5M45.5,594.61h3.5M251.1,594.61h-3.5M45.5,569.22h3.5M251.1,569.22h-3.5M45.5,543.83h3.5M251.1,543.83h-3.5M45.5,518.44h3.5M251.1,518.44h-3.5M45.5,493.05h3.5M251.1,493.05h-3.5" stroke="#333" stroke-width="1.0" fill="none"/>
<text x="68.2" y="684.9" text-anchor="middle">0</text>
<text x="113.83" y="684.9" text-anchor="middle">10</text>
<text x="159.46" y="684.9" text-anchor="middle">20</text>
<text x="205.09" y="684.9" text-anchor="middle">30</text>
<text x="250.72" y="684.9" text-anchor="middle">40</text>
<text x="40.9" y="675.63" text-anchor="end">&#8722;2</text>
<text x="40.9" y="650.24" text-anchor="end">&#8722;1</text>
<text x="40.9" y="624.85" text-anchor="end">0</text>
<text x="40.9" y="599.46" text-anchor="end">1</text>
<text x="40.9" y="574.07" text-anchor="end">2</text>
<text x="40.9" y="548.68" text-anchor="end">3</text>
<text x="40.9" y="523.29" text-anchor="end">4</text>
<text x="40.9" y="497.9" text-anchor="end">5</text>
<text x="148.3" y="700.9" text-anchor="middle">Longitudinal direction [&#181;m]</text>
<text x="17" y="575.65" text-anchor="middle" transform="rotate(-90 17 575.65)">Vertical displacement [&#181;m]</text>
<text x="263.8" y="480.8" font-size="17" font-weight="bold">f</text>
<g fill="#2b4e8a" fill-opacity="0.66">
<circle cx="344.87" cy="494.16" r="4.9"/>
<circle cx="344.87" cy="497.16" r="4.9"/>
<circle cx="344.87" cy="501.16" r="4.9"/>
<circle cx="369.6" cy="517.77" r="4.9"/>
<circle cx="369.6" cy="520.27" r="4.9"/>
<circle cx="369.6" cy="522.77" r="4.9"/>
<circle cx="388.79" cy="535.31" r="4.9"/>
<circle cx="388.79" cy="537.81" r="4.9"/>
<circle cx="388.79" cy="540.31" r="4.9"/>
<circle cx="404.47" cy="549.64" r="4.9"/>
<circle cx="404.47" cy="552.14" r="4.9"/>
<circle cx="404.47" cy="554.64" r="4.9"/>
<circle cx="417.73" cy="561.75" r="4.9"/>
<circle cx="417.73" cy="564.25" r="4.9"/>
<circle cx="417.73" cy="566.75" r="4.9"/>
<circle cx="429.21" cy="572.25" r="4.9"/>
<circle cx="429.21" cy="574.75" r="4.9"/>
<circle cx="429.21" cy="577.25" r="4.9"/>
<circle cx="439.34" cy="581.51" r="4.9"/>
<circle cx="439.34" cy="584.01" r="4.9"/>
<circle cx="439.34" cy="586.51" r="4.9"/>
<circle cx="448.4" cy="589.79" r="4.9"/>
<circle cx="448.4" cy="592.29" r="4.9"/>
<circle cx="448.4" cy="594.79" r="4.9"/>
<circle cx="456.59" cy="597.28" r="4.9"/>
<circle cx="456.59" cy="599.78" r="4.9"/>
<circle cx="456.59" cy="602.28" r="4.9"/>
<circle cx="464.07" cy="604.12" r="4.9"/>
<circle cx="464.07" cy="606.62" r="4.9"/>
<circle cx="464.07" cy="609.12" r="4.9"/>
<circle cx="470.96" cy="610.41" r="4.9"/>
<circle cx="470.96" cy="612.91" r="4.9"/>
<circle cx="470.96" cy="615.41" r="4.9"/>
<circle cx="477.33" cy="616.23" r="4.9"/>
<circle cx="477.33" cy="618.73" r="4.9"/>
<circle cx="477.33" cy="621.23" r="4.9"/>
<circle cx="483.26" cy="623.15" r="4.9"/>
</g>
<g fill="#8ccb48" fill-opacity="0.62">
<circle cx="344.87" cy="512.06" r="4.9"/>
<circle cx="369.6" cy="526.87" r="4.9"/>
<circle cx="369.6" cy="529.87" r="4.9"/>
<circle cx="369.6" cy="531.87" r="4.9"/>
<circle cx="388.79" cy="544.41" r="4.9"/>
<circle cx="388.79" cy="547.41" r="4.9"/>
<circle cx="388.79" cy="549.41" r="4.9"/>
<circle cx="404.47" cy="558.74" r="4.9"/>
<circle cx="404.47" cy="561.74" r="4.9"/>
<circle cx="404.47" cy="563.74" r="4.9"/>
<circle cx="417.73" cy="570.85" r="4.9"/>
<circle cx="417.73" cy="573.85" r="4.9"/>
<circle cx="417.73" cy="575.85" r="4.9"/>
<circle cx="429.21" cy="581.35" r="4.9"/>
<circle cx="429.21" cy="584.35" r="4.9"/>
<circle cx="429.21" cy="586.35" r="4.9"/>
<circle cx="439.34" cy="590.61" r="4.9"/>
<circle cx="439.34" cy="593.61" r="4.9"/>
<circle cx="439.34" cy="595.61" r="4.9"/>
<circle cx="448.4" cy="598.89" r="4.9"/>
<circle cx="448.4" cy="601.89" r="4.9"/>
<circle cx="448.4" cy="603.89" r="4.9"/>
<circle cx="456.59" cy="606.38" r="4.9"/>
<circle cx="456.59" cy="609.38" r="4.9"/>
<circle cx="456.59" cy="611.38" r="4.9"/>
<circle cx="464.07" cy="613.22" r="4.9"/>
<circle cx="464.07" cy="616.22" r="4.9"/>
<circle cx="464.07" cy="618.22" r="4.9"/>
<circle cx="470.96" cy="619.51" r="4.9"/>
<circle cx="470.96" cy="622.51" r="4.9"/>
<circle cx="470.96" cy="624.51" r="4.9"/>
<circle cx="477.33" cy="625.33" r="4.9"/>
<circle cx="477.33" cy="628.33" r="4.9"/>
<circle cx="477.33" cy="630.33" r="4.9"/>
<circle cx="483.26" cy="630.75" r="4.9"/>
<circle cx="483.26" cy="633.75" r="4.9"/>
<circle cx="483.26" cy="635.75" r="4.9"/>
<circle cx="488.81" cy="637.33" r="4.9"/>
<circle cx="488.81" cy="639.33" r="4.9"/>
<circle cx="494.02" cy="642.09" r="4.9"/>
<circle cx="494.02" cy="644.09" r="4.9"/>
<circle cx="498.94" cy="646.58" r="4.9"/>
<circle cx="498.94" cy="648.58" r="4.9"/>
<circle cx="503.59" cy="650.83" r="4.9"/>
<circle cx="503.59" cy="652.83" r="4.9"/>
<circle cx="508" cy="654.86" r="4.9"/>
<circle cx="508" cy="656.86" r="4.9"/>
</g>
<path d="M344.8,499.6L484.5,627.29" stroke="#111" stroke-width="1.5" stroke-dasharray="3.6,2"/>
<path d="M344.8,507.7L507.5,656.41" stroke="#111" stroke-width="1.5" stroke-dasharray="3.6,2"/>
<text x="369.6" y="507.8">E = 132 GPa</text>
<text x="344.9" y="591.2">E = 130 GPa</text>
<rect x="316.7" y="624.6" width="72" height="39.4" rx="2" fill="#fff" fill-opacity="0.85" stroke="#d6d6d6" stroke-width="1"/>
<circle cx="333.1" cy="635.2" r="4.4" fill="#6e6e6e" stroke="#555" stroke-width="0.8"/>
<path d="M320.6,652.5H345.6" stroke="#222" stroke-width="1.3" stroke-dasharray="4,2"/>
<text x="355.6" y="639.2">Data</text>
<text x="355.6" y="657.4">Fit</text>
<rect x="310" y="480.5" width="204.8" height="190" fill="none" stroke="#333" stroke-width="1.2"/>
<path d="M369.6,670.5v-3.5M369.6,480.5v3.5M404.47,670.5v-3.5M404.47,480.5v3.5M429.21,670.5v-3.5M429.21,480.5v3.5M464.07,670.5v-3.5M464.07,480.5v3.5M488.81,670.5v-3.5M488.81,480.5v3.5M508,670.5v-3.5M508,480.5v3.5" stroke="#333" stroke-width="1.0" fill="none"/>
<path d="M448.4,670.5v-2M448.4,480.5v2M477.33,670.5v-2M477.33,480.5v2M498.94,670.5v-2M498.94,480.5v2" stroke="#333" stroke-width="0.8" fill="none"/>
<path d="M310,662.2h3.5M514.8,662.2h-3.5M310,634.96h3.5M514.8,634.96h-3.5M310,607.71h3.5M514.8,607.71h-3.5M310,571.7h3.5M514.8,571.7h-3.5M310,544.46h3.5M514.8,544.46h-3.5M310,517.21h3.5M514.8,517.21h-3.5" stroke="#333" stroke-width="1.0" fill="none"/>
<path d="M310,655.03h2M514.8,655.03h-2M310,648.98h2M514.8,648.98h-2M310,643.73h2M514.8,643.73h-2M310,639.1h2M514.8,639.1h-2M310,591.78h2M514.8,591.78h-2M310,580.47h2M514.8,580.47h-2M310,564.53h2M514.8,564.53h-2M310,558.48h2M514.8,558.48h-2M310,553.23h2M514.8,553.23h-2M310,548.6h2M514.8,548.6h-2M310,501.28h2M514.8,501.28h-2M310,489.97h2M514.8,489.97h-2" stroke="#333" stroke-width="0.8" fill="none"/>
<text x="310" y="684.6" text-anchor="middle">10</text>
<text x="369.6" y="684.6" text-anchor="middle">20</text>
<text x="404.47" y="684.6" text-anchor="middle">30</text>
<text x="429.21" y="684.6" text-anchor="middle">40</text>
<text x="464.07" y="684.6" text-anchor="middle">60</text>
<text x="488.51" y="684.6" text-anchor="middle">80</text>
<text x="506.4" y="684.6" text-anchor="middle">100</text>
<text x="305.4" y="667.05" text-anchor="end">5</text>
<text x="305.4" y="639.81" text-anchor="end">10</text>
<text x="305.4" y="612.56" text-anchor="end">20</text>
<text x="305.4" y="576.55" text-anchor="end">50</text>
<text x="305.4" y="549.31" text-anchor="end">100</text>
<text x="305.4" y="522.06" text-anchor="end">200</text>
<text x="305.4" y="486.05" text-anchor="end">500</text>
<text x="412.4" y="700.9" text-anchor="middle">Length [&#181;m]</text>
<text x="275.9" y="575.5" text-anchor="middle" transform="rotate(-90 275.9 575.5)">Frequency [kHz]</text>
<text x="0.5" y="714" font-size="17" font-weight="bold">g</text>
<path d="M45.4,902.3C62,902.27 123.4,902.17 145,902.1C166.6,902.03 167.95,901.97 175,901.9C182.05,901.83 184.23,901.95 187.3,901.7C190.37,901.45 191.37,901.23 193.4,900.4C195.43,899.57 197.67,898.33 199.5,896.7C201.33,895.07 202.75,893.25 204.4,890.6C206.05,887.95 207.55,884.88 209.4,880.8C211.25,876.72 213.47,871.02 215.5,866.1C217.53,861.18 219.55,855.8 221.6,851.3C223.65,846.8 225.65,842.77 227.8,839.1C229.95,835.43 231.83,833 234.5,829.3C237.17,825.6 241.03,820.42 243.8,816.9C246.57,813.38 249.88,809.65 251.1,808.2" fill="none" stroke="#2a4a79" stroke-width="2.2" stroke-dasharray="8,3.2"/>
<path d="M45.4,896.3C46.82,895.73 50.18,894.32 53.9,892.9C57.62,891.48 63.08,889.07 67.7,887.8C72.32,886.53 76.98,885.83 81.6,885.3C86.22,884.77 91.55,884.45 95.4,884.6C99.25,884.75 101.23,885.53 104.7,886.2C108.17,886.87 111.58,887.78 116.2,888.6C120.82,889.42 127.02,890.43 132.4,891.1C137.78,891.77 143.07,892.32 148.5,892.6C153.93,892.88 160.58,892.77 165,892.8C169.42,892.83 172.32,892.97 175,892.8C177.68,892.63 179.05,892.78 181.1,891.8C183.15,890.82 185.65,888.93 187.3,886.9C188.95,884.87 189.78,883.07 191,879.6C192.22,876.13 193.38,870.82 194.6,866.1C195.82,861.38 197.17,855.6 198.3,851.3C199.43,847 200.17,843.97 201.4,840.3C202.63,836.63 203.97,833.18 205.7,829.3C207.43,825.42 209.55,821.1 211.8,817C214.05,812.9 216.75,808.78 219.2,804.7C221.65,800.62 223.67,797.1 226.5,792.5C229.33,787.9 233.37,781.27 236.2,777.1C239.03,772.93 241.02,770.13 243.5,767.5C245.98,764.87 249.83,762.33 251.1,761.3" fill="none" stroke="#8cc63f" stroke-width="2.2" stroke-dasharray="8,3.2"/>
<path d="M45.4,814.3C48.58,814.12 57.92,813.75 64.5,813.2C71.08,812.65 78.98,811.6 84.9,811C90.82,810.4 94.28,810.4 100,809.6C105.72,808.8 112.78,807.58 119.2,806.2C125.62,804.82 132.08,803.07 138.5,801.3C144.92,799.53 151.93,797.68 157.7,795.6C163.47,793.52 168.62,791.2 173.1,788.8C177.58,786.4 181.08,784.08 184.6,781.2C188.12,778.32 191.63,774.4 194.2,771.5C196.77,768.6 197.72,767.07 200,763.8C202.28,760.53 205.53,754.82 207.9,751.9C210.27,748.98 212.37,747.57 214.2,746.3C216.03,745.03 217.33,744.55 218.9,744.3C220.47,744.05 221.5,743.8 223.6,744.8C225.7,745.8 228.87,747.82 231.5,750.3C234.13,752.78 237.03,756.82 239.4,759.7C241.77,762.58 243.75,764.8 245.7,767.6C247.65,770.4 250.2,775.02 251.1,776.5" fill="none" stroke="#2a4a79" stroke-width="2.2"/>
<path d="M45.4,787.6C46.87,787.55 51.02,787.22 54.2,787.3C57.38,787.38 60.4,787.42 64.5,788.1C68.6,788.78 73.68,790.2 78.8,791.4C83.92,792.6 91.67,794.57 95.2,795.3C98.73,796.03 96.63,795.6 100,795.8C103.37,796 110.6,796.7 115.4,796.5C120.2,796.3 124,795.72 128.8,794.6C133.6,793.48 139.38,791.72 144.2,789.8C149.02,787.88 153.53,785.5 157.7,783.1C161.87,780.7 165.83,778.5 169.2,775.4C172.57,772.3 175.4,768.68 177.9,764.5C180.4,760.32 182.1,755.03 184.2,750.3C186.3,745.57 188.67,739.65 190.5,736.1C192.33,732.55 193.88,730.37 195.2,729C196.52,727.63 197.22,727.63 198.4,727.9C199.58,728.17 200.72,728.97 202.3,730.6C203.88,732.23 205.67,735.08 207.9,737.7C210.13,740.32 213.08,743.42 215.7,746.3C218.32,749.18 220.97,751.72 223.6,755C226.23,758.28 229.13,762.32 231.5,766C233.87,769.68 235.7,772.88 237.8,777.1C239.9,781.32 241.88,786.03 244.1,791.3C246.32,796.57 249.93,805.8 251.1,808.7" fill="none" stroke="#8cc63f" stroke-width="2.2"/>
<path d="M98.9,846.5V861" stroke="#000" stroke-width="1.4"/>
<path d="M93.4,859.4L104.4,859.4L98.9,870.8Z" fill="#000"/>
<rect x="51.8" y="720.2" width="57.3" height="39.2" rx="2" fill="#fff" stroke="#d6d6d6" stroke-width="1"/>
<path d="M55.3,730H81.9" stroke="#000" stroke-width="2.2"/>
<path d="M56.6,748.6H81.9" stroke="#000" stroke-width="2.2" stroke-dasharray="8.3,3"/>
<text x="90.4" y="734.5" font-style="italic">&#1013;<tspan font-style="normal" font-size="8.6" dy="2.4">1</tspan></text>
<text x="90.4" y="753.2" font-style="italic">&#1013;<tspan font-style="normal" font-size="8.6" dy="2.4">2</tspan></text>
<rect x="45.4" y="714.2" width="205.7" height="190" fill="none" stroke="#333" stroke-width="1.2"/>
<path d="M57.1,904.2v-3.5M57.1,714.2v3.5M105.6,904.2v-3.5M105.6,714.2v3.5M154.1,904.2v-3.5M154.1,714.2v3.5M202.6,904.2v-3.5M202.6,714.2v3.5" stroke="#333" stroke-width="1.0" fill="none"/>
<path d="M45.4,866.2h3.5M251.1,866.2h-3.5M45.4,828.2h3.5M251.1,828.2h-3.5M45.4,790.2h3.5M251.1,790.2h-3.5M45.4,752.2h3.5M251.1,752.2h-3.5" stroke="#333" stroke-width="1.0" fill="none"/>
<text x="57.1" y="918.3" text-anchor="middle">1</text>
<text x="105.6" y="918.3" text-anchor="middle">2</text>
<text x="154.1" y="918.3" text-anchor="middle">3</text>
<text x="202.6" y="918.3" text-anchor="middle">4</text>
<text x="251.1" y="918.3" text-anchor="middle">5</text>
<text x="40.8" y="909.05" text-anchor="end">0</text>
<text x="40.8" y="871.05" text-anchor="end">2</text>
<text x="40.8" y="833.05" text-anchor="end">4</text>
<text x="40.8" y="795.05" text-anchor="end">6</text>
<text x="40.8" y="757.05" text-anchor="end">8</text>
<text x="40.8" y="719.05" text-anchor="end">10</text>
<text x="148.25" y="934.3" text-anchor="middle">Energy [eV]</text>
<text x="19" y="809.2" text-anchor="middle" font-style="italic" transform="rotate(-90 19 809.2)">&#1013;<tspan font-style="normal" font-size="8.6" dy="2.4">1, 2</tspan></text>
<text x="263.2" y="714" font-size="17" font-weight="bold">h</text>
<g fill="#4068a6" fill-opacity="0.55" stroke="#3a5f99" stroke-opacity="0.35" stroke-width="0.8">
<circle cx="340.5" cy="720.21" r="4.5"/>
<circle cx="343.21" cy="721.9" r="4.5"/>
<circle cx="345.54" cy="722.16" r="4.5"/>
<circle cx="348.98" cy="721.65" r="4.5"/>
<circle cx="351.14" cy="722.46" r="4.5"/>
<circle cx="354.31" cy="720.95" r="4.5"/>
<circle cx="357.12" cy="721.98" r="4.5"/>
<circle cx="359.25" cy="721.7" r="4.5"/>
<circle cx="362.36" cy="721.67" r="4.5"/>
<circle cx="364.45" cy="721.33" r="4.5"/>
<circle cx="367.4" cy="722.37" r="4.5"/>
<circle cx="369.55" cy="722.65" r="4.5"/>
<circle cx="371.75" cy="721.38" r="4.5"/>
<circle cx="374.69" cy="721.89" r="4.5"/>
<circle cx="378.51" cy="720.26" r="4.5"/>
<circle cx="380.78" cy="721.99" r="4.5"/>
<circle cx="383.27" cy="721.85" r="4.5"/>
<circle cx="386.65" cy="722.78" r="4.5"/>
<circle cx="390.73" cy="722.32" r="4.5"/>
<circle cx="394" cy="720.87" r="4.5"/>
<circle cx="396.88" cy="721.14" r="4.5"/>
<circle cx="401.02" cy="721.91" r="4.5"/>
<circle cx="403.13" cy="720.16" r="4.5"/>
<circle cx="407.02" cy="721.35" r="4.5"/>
<circle cx="409.65" cy="720.55" r="4.5"/>
<circle cx="411.97" cy="720.42" r="4.5"/>
<circle cx="414.23" cy="720.26" r="4.5"/>
<circle cx="416.91" cy="722.17" r="4.5"/>
<circle cx="420.7" cy="720.45" r="4.5"/>
<circle cx="423.1" cy="720.77" r="4.5"/>
<circle cx="426.38" cy="721.16" r="4.5"/>
<circle cx="429.79" cy="722.45" r="4.5"/>
<circle cx="432.61" cy="720.32" r="4.5"/>
<circle cx="435.81" cy="721.31" r="4.5"/>
<circle cx="437.95" cy="721.58" r="4.5"/>
<circle cx="440.08" cy="722.49" r="4.5"/>
<circle cx="442.53" cy="722.31" r="4.5"/>
<circle cx="446.03" cy="722.43" r="4.5"/>
<circle cx="448.97" cy="720.85" r="4.5"/>
<circle cx="451.66" cy="721.22" r="4.5"/>
<circle cx="459.5" cy="721.07" r="4.5"/>
<circle cx="461.68" cy="722.49" r="4.5"/>
<circle cx="463.63" cy="722.69" r="4.5"/>
<circle cx="466.32" cy="720.51" r="4.5"/>
<circle cx="468.87" cy="720.58" r="4.5"/>
<circle cx="474" cy="720.73" r="4.5"/>
<circle cx="476.48" cy="720.73" r="4.5"/>
<circle cx="478.87" cy="721.41" r="4.5"/>
<circle cx="481.86" cy="721.69" r="4.5"/>
<circle cx="484.6" cy="720.81" r="4.5"/>
<circle cx="486.59" cy="720.11" r="4.5"/>
<circle cx="489.75" cy="721.23" r="4.5"/>
<circle cx="491.45" cy="721.1" r="4.5"/>
<circle cx="493.66" cy="721.63" r="4.5"/>
<circle cx="496.45" cy="722.67" r="4.5"/>
<circle cx="498.21" cy="721.96" r="4.5"/>
<circle cx="448" cy="721.49" r="4.5"/>
<circle cx="450" cy="721.77" r="4.5"/>
<circle cx="464" cy="721.93" r="4.5"/>
<circle cx="465" cy="720.25" r="4.5"/>
<circle cx="485" cy="722.53" r="4.5"/>
<circle cx="487" cy="722.21" r="4.5"/>
<circle cx="489" cy="722.46" r="4.5"/>
<circle cx="491" cy="722.25" r="4.5"/>
<circle cx="493" cy="721.16" r="4.5"/>
<circle cx="495" cy="721.18" r="4.5"/>
<circle cx="509.3" cy="720.38" r="4.5"/>
</g>
<g fill="#9fd65c" fill-opacity="0.45" stroke="#8cc63f" stroke-opacity="0.35" stroke-width="0.8">
<circle cx="328.7" cy="720.18" r="5"/>
<circle cx="330.41" cy="719.68" r="5"/>
<circle cx="332.39" cy="721.79" r="5"/>
<circle cx="334.6" cy="723.37" r="5"/>
<circle cx="336.2" cy="725.16" r="5"/>
<circle cx="337.98" cy="727.59" r="5"/>
<circle cx="339.63" cy="731.08" r="5"/>
<circle cx="342.33" cy="731.17" r="5"/>
<circle cx="344.39" cy="733.94" r="5"/>
<circle cx="346.64" cy="735.21" r="5"/>
<circle cx="349.77" cy="741.15" r="5"/>
<circle cx="352.21" cy="741.5" r="5"/>
<circle cx="353.97" cy="741.7" r="5"/>
<circle cx="356.18" cy="743.97" r="5"/>
<circle cx="359.27" cy="745.79" r="5"/>
<circle cx="360.92" cy="749.8" r="5"/>
<circle cx="363.47" cy="748.71" r="5"/>
<circle cx="366.04" cy="750.28" r="5"/>
<circle cx="368.59" cy="755.75" r="5"/>
<circle cx="371.75" cy="757.26" r="5"/>
<circle cx="373.82" cy="757.73" r="5"/>
<circle cx="375.72" cy="760.31" r="5"/>
<circle cx="378.28" cy="761.84" r="5"/>
<circle cx="380.47" cy="761.12" r="5"/>
<circle cx="383.53" cy="765.67" r="5"/>
<circle cx="386.67" cy="766.92" r="5"/>
<circle cx="389.74" cy="768.53" r="5"/>
<circle cx="391.75" cy="768.95" r="5"/>
<circle cx="393.99" cy="768.54" r="5"/>
<circle cx="395.64" cy="770.44" r="5"/>
<circle cx="397.7" cy="773.18" r="5"/>
<circle cx="401.03" cy="774.3" r="5"/>
<circle cx="404.31" cy="778.55" r="5"/>
<circle cx="407.63" cy="778.97" r="5"/>
<circle cx="409.63" cy="780.07" r="5"/>
<circle cx="411.58" cy="781.56" r="5"/>
<circle cx="414.31" cy="786.31" r="5"/>
<circle cx="417.42" cy="787.37" r="5"/>
<circle cx="420.19" cy="790.83" r="5"/>
<circle cx="421.95" cy="791.79" r="5"/>
<circle cx="425.18" cy="795.1" r="5"/>
<circle cx="428.13" cy="796.65" r="5"/>
<circle cx="430.06" cy="799.5" r="5"/>
<circle cx="432.25" cy="801.51" r="5"/>
<circle cx="435.6" cy="803.06" r="5"/>
<circle cx="437.93" cy="807.12" r="5"/>
<circle cx="440.83" cy="806.93" r="5"/>
<circle cx="442.66" cy="808.5" r="5"/>
<circle cx="445.89" cy="813.76" r="5"/>
<circle cx="447.75" cy="815.52" r="5"/>
<circle cx="451.12" cy="817.94" r="5"/>
<circle cx="453.35" cy="819.56" r="5"/>
<circle cx="455.18" cy="819.29" r="5"/>
<circle cx="458.53" cy="824.59" r="5"/>
<circle cx="461.08" cy="827.91" r="5"/>
<circle cx="463.46" cy="829.84" r="5"/>
<circle cx="466.55" cy="830.24" r="5"/>
<circle cx="468.6" cy="832.55" r="5"/>
<circle cx="470.63" cy="835.64" r="5"/>
<circle cx="472.7" cy="837.11" r="5"/>
<circle cx="474.53" cy="840.71" r="5"/>
<circle cx="476.77" cy="841.32" r="5"/>
<circle cx="479.42" cy="845.58" r="5"/>
<circle cx="481.78" cy="847.98" r="5"/>
<circle cx="484.28" cy="849.1" r="5"/>
<circle cx="486.82" cy="849.79" r="5"/>
<circle cx="489.22" cy="852.78" r="5"/>
<circle cx="490.82" cy="856.56" r="5"/>
<circle cx="492.73" cy="857.24" r="5"/>
<circle cx="495.64" cy="860.36" r="5"/>
<circle cx="497.83" cy="862.35" r="5"/>
<circle cx="500.43" cy="865.84" r="5"/>
<circle cx="502.22" cy="866.77" r="5"/>
<circle cx="504.26" cy="867.74" r="5"/>
<circle cx="507.1" cy="871.3" r="5"/>
</g>
<rect x="309.9" y="714.2" width="205.5" height="190.1" fill="none" stroke="#333" stroke-width="1.2"/>
<path d="M347.3,904.3v-3.5M347.3,714.2v3.5M384.7,904.3v-3.5M384.7,714.2v3.5M422.1,904.3v-3.5M422.1,714.2v3.5M459.5,904.3v-3.5M459.5,714.2v3.5M496.9,904.3v-3.5M496.9,714.2v3.5" stroke="#333" stroke-width="1.0" fill="none"/>
<path d="M309.9,720h3.5M515.4,720h-3.5M309.9,750.72h3.5M515.4,750.72h-3.5M309.9,781.44h3.5M515.4,781.44h-3.5M309.9,812.16h3.5M515.4,812.16h-3.5M309.9,842.88h3.5M515.4,842.88h-3.5M309.9,873.6h3.5M515.4,873.6h-3.5" stroke="#333" stroke-width="1.0" fill="none"/>
<text x="309.9" y="918.4" text-anchor="middle">0</text>
<text x="347.3" y="918.4" text-anchor="middle">50</text>
<text x="384.7" y="918.4" text-anchor="middle">100</text>
<text x="422.1" y="918.4" text-anchor="middle">150</text>
<text x="459.5" y="918.4" text-anchor="middle">200</text>
<text x="496.9" y="918.4" text-anchor="middle">250</text>
<text x="305.3" y="724.85" text-anchor="end">0.0</text>
<text x="305.3" y="755.57" text-anchor="end">&#8722;0.5</text>
<text x="305.3" y="786.29" text-anchor="end">&#8722;1.0</text>
<text x="305.3" y="817.01" text-anchor="end">&#8722;1.5</text>
<text x="305.3" y="847.73" text-anchor="end">&#8722;2.0</text>
<text x="305.3" y="878.45" text-anchor="end">&#8722;2.5</text>
<text x="305.3" y="909.17" text-anchor="end">&#8722;3.0</text>
<text x="412.65" y="934.3" text-anchor="middle">Laser power @670nm [&#181;W]</text>
<text x="269.3" y="809.25" text-anchor="middle" transform="rotate(-90 269.3 809.25)">&#916;f [%]</text>
</svg>
</body></html>
